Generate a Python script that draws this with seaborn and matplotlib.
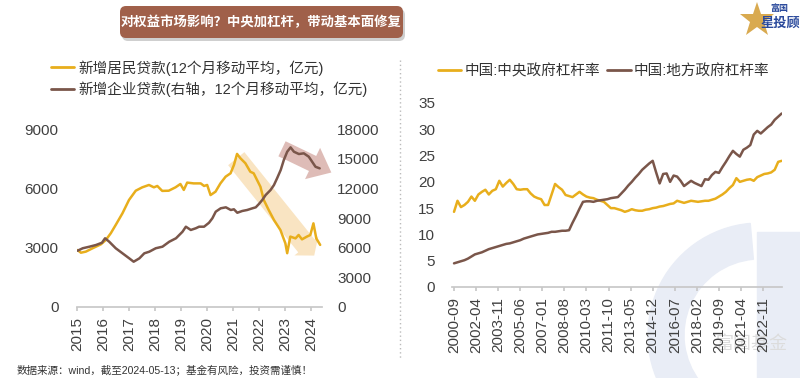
import pandas as pd
import seaborn as sns
import matplotlib.pyplot as plt
import matplotlib.dates as mdates
from matplotlib.lines import Line2D
from matplotlib.patches import Wedge, Rectangle, FancyBboxPatch
from matplotlib.transforms import IdentityTransform

YELLOW = '#E8AE1C'
BROWN = '#7A564A'
TICK_COLOR = '#404040'

# ---- left panel: 12m moving average of new loans (亿元) ----
hh_year = [2015.01, 2015.14, 2015.33, 2015.59, 2015.91, 2016.10, 2016.29, 2016.48,
           2016.74, 2016.99, 2017.25, 2017.50, 2017.76, 2017.95, 2018.08, 2018.27,
           2018.52, 2018.78, 2018.97, 2019.10, 2019.23, 2019.48, 2019.75, 2019.88,
           2020.00, 2020.13, 2020.32, 2020.51, 2020.71, 2020.90, 2021.03, 2021.15,
           2021.28, 2021.47, 2021.66, 2021.79, 2021.92, 2022.05, 2022.18, 2022.37,
           2022.57, 2022.82, 2023.01, 2023.08, 2023.20, 2023.40, 2023.52, 2023.65,
           2023.84, 2023.97, 2024.09, 2024.20, 2024.35]
hh_loan = [2880, 2745, 2800, 2970, 3170, 3390, 3730, 4150,
           4740, 5410, 5880, 6050, 6170, 6050, 6120, 5870,
           5880, 6050, 6220, 5920, 6290, 6250, 6250, 6120,
           6170, 5660, 5830, 6250, 6590, 6760, 7180, 7740,
           7520, 7270, 6840, 6760, 6420, 6080, 5410, 4900,
           4400, 3890, 3220, 2720, 3560, 3470, 3640, 3420,
           3560, 3640, 4230, 3470, 3140]

corp_year = [2015.01, 2015.21, 2015.47, 2015.72, 2015.95, 2016.07, 2016.23, 2016.48,
             2016.74, 2017.00, 2017.17, 2017.39, 2017.58, 2017.77, 2018.02, 2018.28,
             2018.54, 2018.80, 2019.05, 2019.18, 2019.37, 2019.56, 2019.69, 2019.88,
             2020.07, 2020.20, 2020.33, 2020.52, 2020.72, 2020.91, 2021.03, 2021.16,
             2021.35, 2021.54, 2021.74, 2021.87, 2021.99, 2022.12, 2022.25, 2022.44,
             2022.57, 2022.69, 2022.83, 2022.95, 2023.08, 2023.21, 2023.34, 2023.53,
             2023.72, 2023.91, 2024.04, 2024.17, 2024.33]
corp_loan = [5690, 5940, 6100, 6270, 6500, 6950, 6600, 5940,
             5430, 4920, 4580, 4920, 5430, 5590, 5940, 6100,
             6600, 6950, 7610, 8120, 7790, 7960, 8120, 8120,
             8520, 8970, 9640, 9980, 10080, 9810, 9880, 9530,
             9710, 9810, 9980, 10080, 10410, 10820, 11320, 11830,
             12330, 13010, 13850, 14860, 15700, 16140, 15700, 15470,
             15540, 15200, 14690, 14180, 14020]

year_ticks = list(range(2015, 2025))

# ---- right panel: government leverage ratio (%), quarterly ----
lev_dates = pd.date_range('2000-09-01', '2024-03-01', freq='3MS')
central_lev = [14.3, 16.4, 15.2, 15.6, 16.2, 17.2, 16.4, 17.6, 18.1, 18.5,
               17.6, 18.3, 18.6, 20.2, 19.1, 19.8, 20.4, 19.6, 18.6, 18.5,
               18.6, 18.6, 17.8, 17.2, 16.9, 16.7, 15.6, 15.6, 17.6, 19.6,
               19.0, 18.5, 17.5, 17.3, 17.1, 17.6, 18.1, 17.6, 17.2, 17.0,
               16.9, 16.6, 16.4, 16.2, 15.6, 15.0, 15.0, 14.8, 14.6, 14.3,
               14.5, 14.8, 14.6, 14.5, 14.5, 14.7, 14.8, 15.0, 15.1, 15.3,
               15.4, 15.6, 15.8, 15.9, 16.4, 16.2, 16.0, 16.2, 16.4, 16.3,
               16.2, 16.3, 16.4, 16.4, 16.6, 16.8, 17.2, 17.6, 18.1, 18.8,
               19.4, 20.7, 20.0, 20.2, 20.4, 20.5, 20.2, 20.9, 21.2, 21.5,
               21.6, 21.8, 22.3, 23.8, 24.0]
local_lev = [4.5, 4.7, 4.9, 5.1, 5.4, 5.8, 6.2, 6.4, 6.6, 6.9,
             7.2, 7.4, 7.6, 7.8, 8.0, 8.2, 8.3, 8.5, 8.7, 8.9,
             9.2, 9.4, 9.6, 9.8, 10.0, 10.1, 10.2, 10.3, 10.5, 10.5,
             10.6, 10.7, 10.7, 10.8, 12.2, 13.5, 14.9, 16.2, 16.3, 16.3,
             16.2, 16.4, 16.5, 16.6, 16.7, 16.9, 17.0, 17.1, 17.8, 18.5,
             19.3, 20.0, 20.8, 21.5, 22.3, 22.9, 23.5, 24.0, 21.8, 19.7,
             21.5, 21.6, 20.0, 21.2, 21.0, 20.2, 19.2, 19.7, 20.2, 19.8,
             19.5, 19.2, 20.5, 20.4, 21.3, 21.9, 21.7, 22.8, 23.8, 24.9,
             25.9, 25.3, 24.8, 26.1, 26.5, 27.0, 29.0, 29.7, 29.2, 29.8,
             30.4, 30.9, 31.8, 32.4, 33.0]
date_ticks = pd.date_range('2000-09-01', periods=15, freq='19MS')

sns.set_theme(style='white')
plt.rcParams['font.family'] = ['Liberation Sans', 'Noto Sans CJK SC', 'DejaVu Sans']

fig = plt.figure(figsize=(8, 3.78), dpi=100)
W, H = 800, 378


def fx(px):
    return px / W


def fy(py):
    return 1 - py / H


# ---------- left chart ----------
ax1 = fig.add_axes([fx(76.5), fy(307), fx(322) - fx(76.5), 178 / H])
ax2 = ax1.twinx()

ax1.annotate('', xy=(2024.12, 2600), xytext=(2021.12, 7500),
             arrowprops=dict(arrowstyle='simple,head_length=0.9,head_width=2.2,tail_width=1.5',
                             fc='#F7D9A8', ec='none', alpha=0.7, mutation_scale=10,
                             shrinkA=0, shrinkB=0),
             annotation_clip=False, zorder=1)
sns.lineplot(x=hh_year, y=hh_loan, ax=ax1, color=YELLOW, lw=1.8, zorder=3)

ax2.annotate('', xy=(2024.78, 13600), xytext=(2022.88, 16000),
             arrowprops=dict(arrowstyle='simple,head_length=1.5,head_width=2.5,tail_width=1.2',
                             fc='#C99087', ec='none', alpha=0.6, mutation_scale=10,
                             shrinkA=0, shrinkB=0),
             annotation_clip=False, zorder=1)
sns.lineplot(x=corp_year, y=corp_loan, ax=ax2, color=BROWN, lw=1.8, zorder=3)

ax1.set_xlim(2014.97, 2024.42)
ax1.set_ylim(0, 9000)
ax1.set_yticks([0, 3000, 6000, 9000])
ax2.set_ylim(0, 18000)
ax2.set_yticks(list(range(0, 18001, 3000)))
ax1.set_xticks(year_ticks)
ax1.set_xticklabels([str(y) for y in year_ticks], rotation=90)

for a in (ax1, ax2):
    for s in a.spines.values():
        s.set_visible(False)
    a.set_xlabel('')
    a.set_ylabel('')
ax1.spines['bottom'].set_visible(True)
ax1.spines['bottom'].set_color('#C8C8C8')
ax1.tick_params(axis='x', bottom=True, length=3, color='#C8C8C8', pad=4,
                labelsize=11, labelcolor=TICK_COLOR)
ax1.tick_params(axis='y', length=0, pad=13, labelsize=11, labelcolor=TICK_COLOR)
ax2.tick_params(axis='y', length=0, pad=11, labelsize=11, labelcolor=TICK_COLOR)
ax1.set_facecolor('none')

left_handles = [Line2D([], [], color=YELLOW, lw=2), Line2D([], [], color=BROWN, lw=2)]
fig.legend(left_handles,
           ['新增居民贷款(12个月移动平均，亿元)', '新增企业贷款(右轴，12个月移动平均，亿元)'],
           loc='upper left', bbox_to_anchor=(fx(51), fy(60)), frameon=False,
           fontsize=10.5, handlelength=1.6, handletextpad=0.25, labelspacing=0.4,
           borderpad=0, borderaxespad=0, labelcolor='#333333')

# ---------- right chart ----------
ax3 = fig.add_axes([fx(452), fy(287), fx(782) - fx(452), 184 / H])
sns.lineplot(x=lev_dates, y=central_lev, ax=ax3, color=YELLOW, lw=1.8)
sns.lineplot(x=lev_dates, y=local_lev, ax=ax3, color=BROWN, lw=1.8)
ax3.set_xlim(pd.Timestamp('2000-07-10'), pd.Timestamp('2024-03-10'))
ax3.set_ylim(0, 35)
ax3.set_yticks(list(range(0, 36, 5)))
ax3.set_xticks(date_ticks)
ax3.set_xticklabels([d.strftime('%Y-%m') for d in date_ticks], rotation=90)
for s in ax3.spines.values():
    s.set_visible(False)
ax3.spines['bottom'].set_visible(True)
ax3.spines['bottom'].set_color('#C8C8C8')
ax3.tick_params(axis='x', bottom=True, length=3, color='#C8C8C8', pad=4,
                labelsize=11, labelcolor=TICK_COLOR)
ax3.tick_params(axis='y', length=0, pad=12, labelsize=11, labelcolor=TICK_COLOR)
ax3.set_xlabel('')
ax3.set_ylabel('')
ax3.set_facecolor('none')

right_handles = [Line2D([], [], color=YELLOW, lw=2), Line2D([], [], color=BROWN, lw=2)]
fig.legend(right_handles, ['中国:中央政府杠杆率', '中国:地方政府杠杆率'],
           loc='upper left', bbox_to_anchor=(fx(438), fy(64)), ncol=2, frameon=False,
           fontsize=10.5, handlelength=1.6, handletextpad=0.2, columnspacing=0.5,
           borderpad=0, borderaxespad=0, labelcolor='#333333')

# ---------- watermark (faint logo) ----------
wm = '#E9EDF6'
fig.add_artist(Wedge((760, 43), 112, 95, 218, width=36, color=wm,
                     transform=IdentityTransform(), zorder=-1))
fig.add_artist(Rectangle((757, 0), 43, 146, color=wm,
                         transform=IdentityTransform(), zorder=-1))
fig.text(fx(752), fy(345), '富国基金', fontsize=13, color='#DCDCDC',
         ha='center', va='center', zorder=-1)

# ---------- separator, title, logo, footnote ----------
fig.add_artist(Line2D([0.5, 0.5], [fy(60), fy(358)], transform=fig.transFigure,
                      color='#BBBBBB', lw=1, linestyle=(0, (1, 2))))

fig.add_artist(FancyBboxPatch((122, H - 41), 283, 32,
                              boxstyle='round,pad=0,rounding_size=6',
                              fc='#CFCFCF', ec='none', transform=IdentityTransform()))
fig.add_artist(FancyBboxPatch((120, H - 38), 283, 32,
                              boxstyle='round,pad=0,rounding_size=6',
                              fc='#A0604A', ec='none', transform=IdentityTransform()))
fig.text(fx(261.5), fy(22.5), '对权益市场影响？中央加杠杆，带动基本面修复',
         ha='center', va='center', fontsize=9.6, fontweight='bold', color='white')

fig.add_artist(Line2D([fx(757)], [fy(20)], transform=fig.transFigure, marker='*',
                      markersize=26, color='#D9AA50', markeredgewidth=0))
fig.text(fx(779), fy(8), '富国', ha='center', va='center', fontsize=6.5,
         fontweight='bold', color='#2B4A9C')
fig.text(fx(780), fy(24), '星投顾', ha='center', va='center', fontsize=9.5,
         fontweight='bold', color='#2B4A9C')

fig.text(fx(17), fy(370), '数据来源：wind，截至2024-05-13；基金有风险，投资需谨慎！',
         ha='left', va='center', fontsize=7.6, color='#333333')

fig.savefig('out.png', dpi=100)
print("File successfully saved.")
